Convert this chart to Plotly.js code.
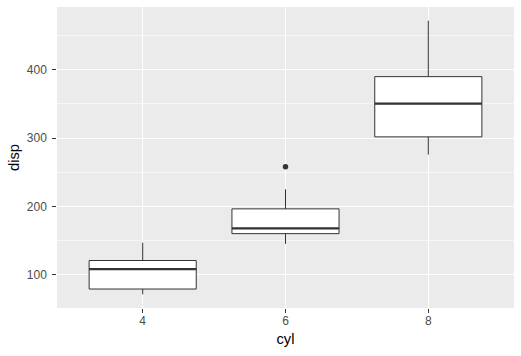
<!DOCTYPE html>
<html><head><meta charset="utf-8">
<script src="https://cdn.plot.ly/plotly-3.0.1.min.js"></script>
<style>html,body{margin:0;padding:0;background:#fff}#chart{width:521px;height:356px}</style>
</head><body><div id="chart"></div>
<script>
const categories = ['4', '6', '8'];
const disp4 = [108, 146.7, 140.8, 78.7, 75.7, 71.1, 120.1, 79, 120.3, 95.1, 121];
const disp6 = [160, 160, 258, 225, 167.6, 167.6, 145];
const disp8 = [360, 360, 275.8, 275.8, 275.8, 472, 460, 440, 318, 304, 350, 400, 351, 301];
const yTicks = [100, 200, 300, 400];

const groups = [disp4, disp6, disp8];
function q7(arr, p) {
  const s = arr.slice().sort((a, b) => a - b);
  const h = (s.length - 1) * p, lo = Math.floor(h), hi = Math.ceil(h);
  return s[lo] + (h - lo) * (s[hi] - s[lo]);
}
const stats = groups.map(g => {
  const q1 = q7(g, 0.25), med = q7(g, 0.5), q3 = q7(g, 0.75), iqr = q3 - q1;
  const inside = g.filter(v => v >= q1 - 1.5 * iqr && v <= q3 + 1.5 * iqr);
  return {q1, med, q3, lf: Math.min(...inside), uf: Math.max(...inside),
          out: g.filter(v => v < q1 - 1.5 * iqr || v > q3 + 1.5 * iqr)};
});
const outX = [], outY = [];
stats.forEach((s, i) => s.out.forEach(v => { outX.push(categories[i]); outY.push(v); }));

const all = groups.flat();
const mn = Math.min(...all), mx = Math.max(...all), pad = (mx - mn) * 0.05;

const traces = [{
  type: 'box', x: categories,
  q1: stats.map(s => s.q1), median: stats.map(s => s.med), q3: stats.map(s => s.q3),
  lowerfence: stats.map(s => s.lf), upperfence: stats.map(s => s.uf),
  width: 0.75, whiskerwidth: 0, fillcolor: '#FFFFFF',
  line: {color: '#333333', width: 1}, hoverinfo: 'skip', showlegend: false
}, {
  type: 'scatter', mode: 'markers', x: outX, y: outY,
  marker: {color: '#333333', size: 5.5}, hoverinfo: 'skip', showlegend: false
}];

const shapes = stats.map((s, i) => ({
  type: 'line', xref: 'x', yref: 'y', x0: i - 0.375, x1: i + 0.375, y0: s.med, y1: s.med,
  line: {color: '#333333', width: 2.2}
}));

const layout = {
  width: 521, height: 356,
  margin: {l: 57, r: 7, t: 7, b: 47.5},
  paper_bgcolor: '#FFFFFF', plot_bgcolor: '#EBEBEB',
  font: {family: 'Liberation Sans, Arial, sans-serif'},
  showlegend: false,
  shapes: shapes,
  xaxis: {
    type: 'category', categoryorder: 'array', categoryarray: categories,
    range: [-0.6, 2.6], showgrid: true, gridcolor: '#FFFFFF', gridwidth: 1.07,
    zeroline: false, showline: false, ticks: 'outside', ticklen: 3.7, tickwidth: 1.07,
    tickcolor: '#333333', tickfont: {size: 12, color: '#4D4D4D'}, ticklabelstandoff: -2,
    title: {text: 'cyl', font: {size: 14.7, color: '#000000'}, standoff: 6}
  },
  yaxis: {
    range: [mn - pad, mx + pad], tickvals: yTicks, ticktext: yTicks.map(String),
    showgrid: true, gridcolor: '#FFFFFF', gridwidth: 1.07,
    minor: {dtick: 50, tick0: 0, showgrid: true, gridcolor: '#FFFFFF', gridwidth: 0.53, ticks: ''},
    zeroline: false, showline: false, ticks: 'outside', ticklen: 3.7, tickwidth: 1.07,
    tickcolor: '#333333', tickfont: {size: 12, color: '#4D4D4D'}, ticklabelstandoff: 3,
    title: {text: 'disp', font: {size: 14.7, color: '#000000'}, standoff: 3}
  }
};
Plotly.newPlot('chart', traces, layout, {staticPlot: true, displayModeBar: false});
</script></body></html>
